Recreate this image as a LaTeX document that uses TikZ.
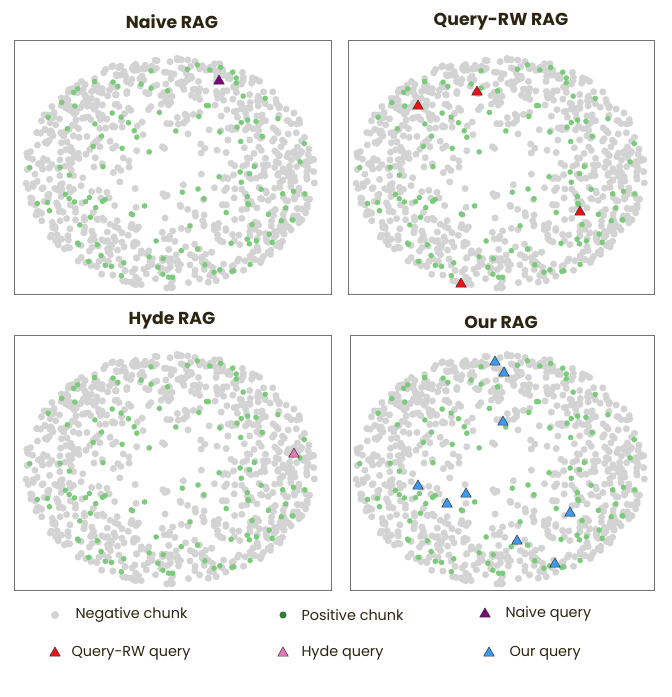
\documentclass[tikz,border=0pt]{standalone}
\usepackage{fontspec}
\setmainfont{Poppins}
\usetikzlibrary{shapes.geometric}
\definecolor{cneg}{HTML}{D3D3D3}
\definecolor{cpos}{HTML}{7CCB7C}
\definecolor{posdark}{HTML}{2E7D32}
\definecolor{qnaive}{HTML}{800080}
\definecolor{qrw}{HTML}{F01010}
\definecolor{qhyde}{HTML}{E879B8}
\definecolor{qour}{HTML}{3A9BF0}
\definecolor{txt}{HTML}{2B2410}
\newcommand\myscatter[2]{%
  \pgfmathsetseed{42}%
  \foreach \i in {1,...,850}{%
    \pgfmathsetmacro\ang{rnd*360}%
    \pgfmathsetmacro\rr{rnd^0.3}%
    \fill[cneg] ({#1+\rr*145*cos(\ang)},{#2+\rr*116*sin(\ang)}) circle (3.5);}%
  \pgfmathsetseed{7}%
  \foreach \i in {1,...,120}{%
    \pgfmathsetmacro\ang{rnd*360}%
    \pgfmathsetmacro\rr{rnd^0.35}%
    \fill[cpos] ({#1+\rr*142*cos(\ang)},{#2+\rr*112*sin(\ang)}) circle (2.8);}%
}
\begin{document}
\begin{tikzpicture}[x=1pt,y=-1pt,
  frame/.style={draw=black!55,line width=0.8pt},
  title/.style={font=\bfseries\LARGE,text=txt},
  tri/.style={regular polygon,regular polygon sides=3,draw=black!80,line width=0.5pt,minimum size=12pt,inner sep=0pt},
  leg/.style={anchor=west,font=\Large,text=txt}]
\useasboundingbox (0,0) rectangle (672,697);
\fill[white] (0,0) rectangle (672,697);
\myscatter{170}{172}
\myscatter{500}{172}
\myscatter{170}{468}
\myscatter{500}{468}
\draw[frame] (14,40) rectangle (331,294);
\draw[frame] (348,40) rectangle (654,294);
\draw[frame] (14,335) rectangle (331,590);
\draw[frame] (350,335) rectangle (654,590);
\node[title] (t1) at (172,22) {Naive RAG};
\node[title] (t2) at (501,22) {Query-RW RAG};
\node[title] (t3) at (172,320) {Hyde RAG};
\node[title] (t4) at (501,322) {Our RAG};
\node[tri,fill=qnaive] (n1) at (219,81) {};
\node[tri,fill=qrw] (r1) at (418,106) {};
\node[tri,fill=qrw] (r2) at (477,92) {};
\node[tri,fill=qrw] (r3) at (580,212) {};
\node[tri,fill=qrw] (r4) at (461,284) {};
\node[tri,fill=qhyde] (h1) at (294,454) {};
\foreach \n/\x/\y in {o1/495/362,o2/504/373,o3/503/422,o4/418/486,o5/447/504,o6/466/494,o7/570/513,o8/517/541,o9/555/564}
  \node[tri,fill=qour] (\n) at (\x,\y) {};
% legend
\fill[cneg] (55,615) circle (4);
\node[leg] (l1) at (72,615) {Negative chunk};
\fill[posdark] (283,615) circle (3.5);
\node[leg] (l2) at (298,615) {Positive chunk};
\node[tri,fill=qnaive] (lt1) at (485,614) {};
\node[leg] (l3) at (502,614) {Naive query};
\node[tri,fill=qrw] (lt2) at (55,653) {};
\node[leg] (l4) at (68,653) {Query-RW query};
\node[tri,fill=qhyde] (lt3) at (283,653) {};
\node[leg] (l5) at (298,653) {Hyde query};
\node[tri,fill=qour] (lt4) at (489,653) {};
\node[leg] (l6) at (506,653) {Our query};
\end{tikzpicture}
\end{document}
